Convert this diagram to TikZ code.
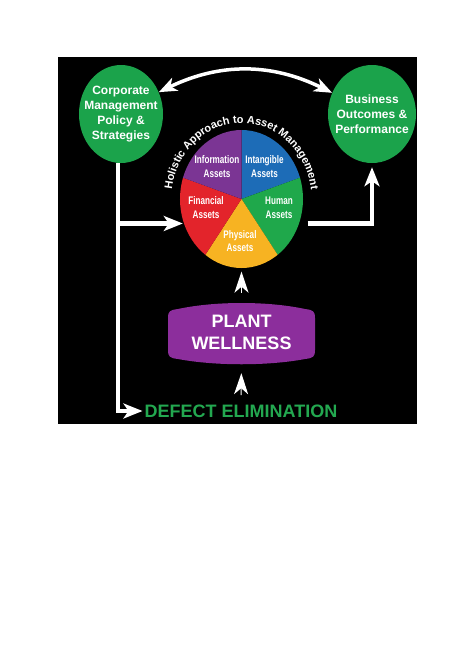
\documentclass[tikz,border=0pt]{standalone}
\usepackage{fontspec}
\setmainfont{Liberation Sans}
\newfontfamily\condfont[FakeStretch=0.74]{Liberation Sans}
\usetikzlibrary{shapes.geometric,arrows.meta,decorations.text}
\definecolor{cgreen}{HTML}{1BA34B}
\definecolor{pwpurple}{HTML}{8C2E9C}
\definecolor{spurple}{HTML}{7B3594}
\definecolor{sblue}{HTML}{1D6CB7}
\definecolor{sred}{HTML}{E3242B}
\definecolor{syellow}{HTML}{F7B322}
\definecolor{sgreen}{HTML}{1FA84B}
\definecolor{dgreen}{HTML}{23A850}
\newcommand\piesector[3]{\fill[#1] (pie.center) -- ++(#2:61.5 and 69) arc[start angle=#2, end angle=#3, x radius=61.5, y radius=69] -- cycle;}
\tikzset{
  bigcircle/.style={ellipse, fill=cgreen, inner sep=0pt, minimum width=#1, minimum height=98pt},
  ctext/.style={text=white, font=\bfseries\fontsize{12}{15}\selectfont, align=center, inner sep=0pt},
  plabel/.style={text=white, font=\condfont\bfseries\fontsize{11}{13.5}\selectfont, align=center, inner sep=0pt},
  conn/.style={draw=white, line width=4.5pt, -{Stealth[length=19pt,width=15pt,inset=5pt]}},
  dblconn/.style={draw=white, line width=3.5pt, {Stealth[length=18pt,width=14pt,inset=5pt]}-{Stealth[length=18pt,width=14pt,inset=5pt]}},
  headonly/.style={draw=white, line width=1pt, -{Stealth[length=21pt,width=14pt,inset=6pt]}}
}
\begin{document}
\begin{tikzpicture}[x=1pt,y=1pt]
\useasboundingbox (0,0) rectangle (474,-670);
\fill[white] (0,0) rectangle (474,-670);
\fill[black] (58,-57) rectangle (417,-424);
% circles
\node[bigcircle=84pt] (lc) at (121,-114) {};
\node[ctext] (lct) at (lc.center) {Corporate\\Management\\Policy \&\\Strategies};
\node[bigcircle=88pt] (rc) at (372,-114) {};
\node[ctext] (rct) at (rc.center) {Business\\Outcomes \&\\Performance};
% pie
\node[ellipse, inner sep=0pt, minimum width=123pt, minimum height=138pt] (pie) at (241.5,-199) {};
\piesector{sblue}{90}{18}
\piesector{sgreen}{18}{-54}
\piesector{syellow}{-54}{-126}
\piesector{sred}{-126}{-198}
\piesector{spurple}{90}{162}
\node[plabel] (linfo) at (217,-166.5) {Information\\Assets};
\node[plabel] (lint) at (264.5,-166.5) {Intangible\\Assets};
\node[plabel] (lfin) at (206,-207.5) {Financial\\Assets};
\node[plabel] (lhum) at (279,-208) {Human\\Assets};
\node[plabel] (lphy) at (240,-241) {Physical\\Assets};
\path[decorate, decoration={text along path, text align=center,
  text={|\color{white}\bfseries\fontsize{11}{13}\selectfont|Holistic Approach to Asset Management}}]
  ([shift={(175:70 and 76)}]pie.center) arc[start angle=175, end angle=5, x radius=70, y radius=76];
% plant wellness
\fill[pwpurple] (168,-318) -- (168,-350)
  .. controls (168,-357) and (170,-358) .. (178,-359)
  .. controls (215,-366) and (268,-366) .. (305,-359)
  .. controls (313,-358) and (315,-357) .. (315,-350)
  -- (315,-318)
  .. controls (315,-311) and (313,-310) .. (305,-309)
  .. controls (268,-301) and (215,-301) .. (178,-309)
  .. controls (170,-310) and (168,-311) .. (168,-318) -- cycle;
\node[text=white, font=\bfseries\fontsize{18}{22}\selectfont, align=center, inner sep=0pt,
  minimum width=147pt, minimum height=56pt] (pw) at (241.5,-332) {PLANT\\WELLNESS};
\node[text=dgreen, font=\bfseries\fontsize{18}{22}\selectfont, inner sep=0pt] (de) at (241,-411) {DEFECT ELIMINATION};
% connectors
\coordinate (vx) at (118,0);
\draw[dblconn] (lc.30) to[bend left=26] (rc.152);
\draw[conn, shorten >=2pt] (vx |- lc.south) -- (vx |- de.west) -- (de.west);
\draw[conn, shorten >=1pt] (vx |- pie.203) -- (pie.203);
\draw[conn, shorten <=8.5pt, shorten >=4pt] (pie.337) -| (rc.south);
\draw[headonly, shorten <=11pt, shorten >=3.5pt] (pw.north) -- (pie.south);
\draw[headonly, shorten <=9.3pt, shorten >=13pt] (de.north) -- (pw.south);
\end{tikzpicture}
\end{document}
